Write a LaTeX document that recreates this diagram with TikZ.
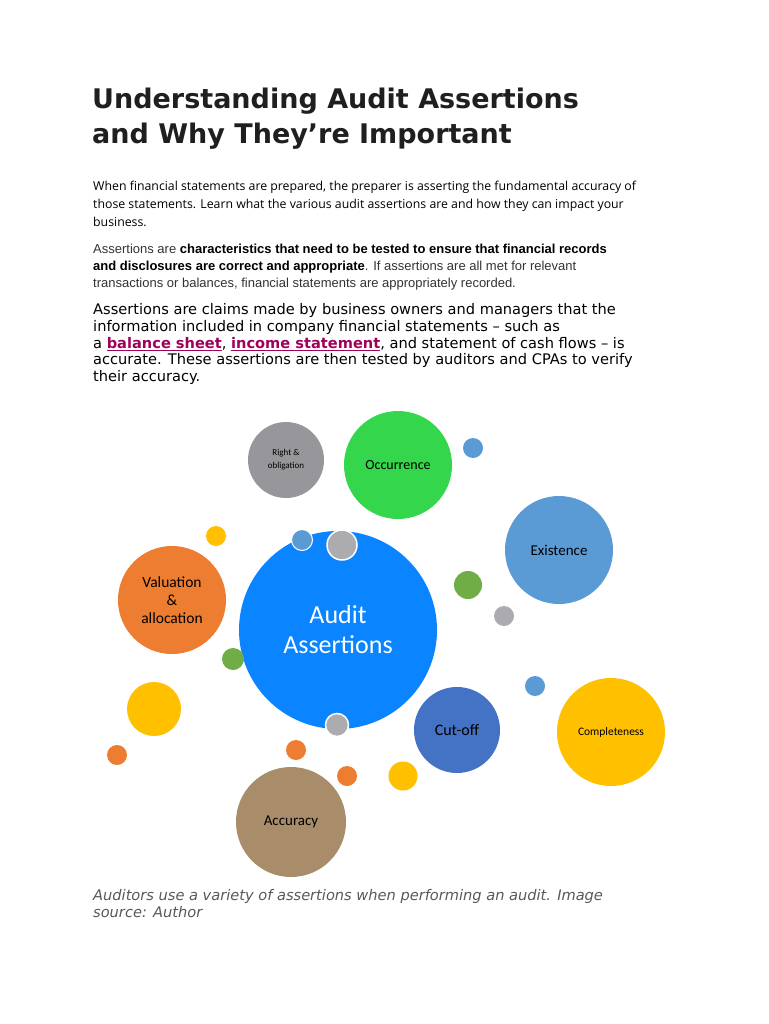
\documentclass[tikz,border=0pt]{standalone}
\usepackage{fontspec}
\setmainfont{DejaVu Sans}
\newfontfamily\opensans{Open Sans}
\newfontfamily\libsans{Liberation Sans}
\newfontfamily\carl{Carlito}
\newcommand{\myul}[1]{$\underline{\hbox{#1}}$}
\definecolor{linkc}{HTML}{A0005A}
\definecolor{cgray}{HTML}{97969B}
\definecolor{cgreen}{HTML}{34D64B}
\definecolor{clblue}{HTML}{5B9BD5}
\definecolor{corange}{HTML}{ED7D31}
\definecolor{cyellow}{HTML}{FFC000}
\definecolor{cblue}{HTML}{0A84FF}
\definecolor{cdblue}{HTML}{4472C4}
\definecolor{cbrown}{HTML}{A98C6A}
\definecolor{cdgreen}{HTML}{70AD47}
\begin{document}
\begin{tikzpicture}[x=1pt,y=-1pt,
  txt/.style={anchor=north west,inner sep=0pt,align=left},
  bub/.style={circle,inner sep=0pt,align=center,font=\carl},
  dot/.style={circle,inner sep=0pt}]
\useasboundingbox[fill=white] (0,0) rectangle (768,1024);
\node[txt,font=\fontsize{27}{35}\selectfont\bfseries,text=black!88] (title) at (92,88)
 {Understanding Audit Assertions\\and Why They’re Important};
\node[txt,font=\opensans\fontsize{12.3}{17.7}\selectfont] (p1) at (93,181)
 {When financial statements are prepared, the preparer is asserting the fundamental accuracy of\\
 those statements. Learn what the various audit assertions are and how they can impact your\\
 business.};
\node[txt,font=\libsans\fontsize{13}{16.8}\selectfont,text=black!80] (p2) at (93,244)
 {Assertions are \textbf{\color{black}characteristics that need to be tested to ensure that financial records}\\
 \textbf{\color{black}and disclosures are correct and appropriate}. If assertions are all met for relevant\\
 transactions or balances, financial statements are appropriately recorded.};
\node[txt,font=\fontsize{14.6}{16.9}\selectfont] (p3) at (93,303)
 {Assertions are claims made by business owners and managers that the\\
 information included in company financial statements -- such as\\
 a \textcolor{linkc}{\myul{\bfseries balance sheet}}, \textcolor{linkc}{\myul{\bfseries income statement}}, and statement of cash flows -- is\\
 accurate. These assertions are then tested by auditors and CPAs to verify\\
 their accuracy.};
% bubbles
\node[bub,fill=cgray,minimum size=76pt,font=\carl\fontsize{9}{13}\selectfont] (ro) at (286,460) {Right \&\\obligation};
\node[bub,fill=cgreen,minimum size=108pt,font=\carl\fontsize{14}{16}\selectfont] (occ) at (398,465) {Occurrence};
\node[dot,fill=clblue,minimum size=20pt] (d1) at (473,448) {};
\node[bub,fill=clblue,minimum size=108pt,font=\carl\fontsize{15}{16}\selectfont] (ex) at (559,550) {Existence};
\node[dot,fill=cdgreen,minimum size=28pt] (d2) at (468,585) {};
\node[dot,fill=cgray!80,minimum size=20pt] (d3) at (504,616) {};
\node[bub,fill=corange,minimum size=108pt,font=\carl\fontsize{15.5}{18}\selectfont] (val) at (172,600) {Valuation\\\&\\allocation};
\node[dot,fill=cyellow,minimum size=20pt] (d4) at (216,536) {};
\node[bub,fill=cblue,minimum size=198pt,text=white,font=\carl\fontsize{26}{30}\selectfont] (aud) at (338,630) {Audit\\Assertions};
\node[dot,fill=clblue,draw=white,line width=1pt,minimum size=21pt] (d5) at (302,540) {};
\node[dot,fill=cgray!80,draw=white,line width=1.5pt,minimum size=30pt] (d6) at (342,545) {};
\node[dot,fill=cdgreen,minimum size=22pt] (d7) at (233,659) {};
\node[dot,fill=cgray!80,draw=white,line width=1.5pt,minimum size=23pt] (d8) at (337,725) {};
\node[dot,fill=cyellow,minimum size=54pt] (d9) at (154,709) {};
\node[dot,fill=corange,minimum size=20pt] (d10) at (117,755) {};
\node[dot,fill=corange,minimum size=20pt] (d11) at (296,750) {};
\node[dot,fill=corange,minimum size=20pt] (d12) at (347,776) {};
\node[dot,fill=cyellow,minimum size=29pt] (d13) at (403,776) {};
\node[bub,fill=cdblue,minimum size=86pt,font=\carl\fontsize{16}{18}\selectfont] (cut) at (457,730) {Cut-off};
\node[dot,fill=clblue,minimum size=20pt] (d14) at (535,686) {};
\node[bub,fill=cyellow,minimum size=108pt,font=\carl\fontsize{11.5}{14}\selectfont] (comp) at (611,732) {Completeness};
\node[bub,fill=cbrown,minimum size=110pt,font=\carl\fontsize{15}{18}\selectfont] (acc) at (291,822) {Accuracy};
\node[txt,font=\fontsize{14.6}{17}\selectfont\itshape,text=black!65] (cap) at (93,889)
 {Auditors use a variety of assertions when performing an audit. Image\\source: Author};
\end{tikzpicture}
\end{document}
